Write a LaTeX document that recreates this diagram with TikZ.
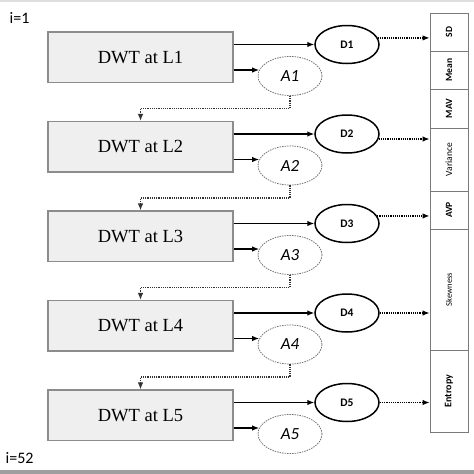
\documentclass[tikz,border=0pt]{standalone}
\usepackage{fontspec}
\setmainfont{Liberation Serif}
\newfontfamily\carl{Carlito}
\usetikzlibrary{arrows.meta,shapes.geometric}
\definecolor{boxfill}{HTML}{EFEFEF}
\definecolor{boxline}{HTML}{8C8C8C}
\definecolor{segline}{HTML}{7A7A7A}
\begin{document}
\begin{tikzpicture}[x=1pt,y=-1pt,
 dwtbox/.style={draw=boxline,line width=1.1pt,fill=boxfill,minimum width=185pt,minimum height=50.5pt,inner sep=0pt,font=\fontsize{18.5}{20}\selectfont},
 dnode/.style={ellipse,draw=black,line width=1.5pt,fill=white,minimum width=64pt,minimum height=38pt,inner sep=0pt,font=\carl\bfseries\fontsize{11.5}{12}\selectfont},
 anode/.style={ellipse,draw=black!55,dash pattern=on 1.5pt off 1pt,line width=0.8pt,fill=white,minimum width=64pt,minimum height=39pt,inner sep=0pt,font=\carl\itshape\fontsize{17}{18}\selectfont},
 solidarr/.style={line width=1.2pt,-{Latex[length=7pt,width=5.5pt]}},
 dotarr/.style={line width=1.2pt,dash pattern=on 1.2pt off 1pt,-{Latex[length=7pt,width=5.5pt]}},
 seg/.style={draw=segline,line width=0.9pt,minimum width=38pt,inner sep=0pt,font=\carl\fontsize{9.5}{10}\selectfont},
 corner/.style={font=\carl\fontsize{16}{17}\selectfont,inner sep=0pt}
]
\useasboundingbox (0,0) rectangle (474,474);
\fill[gray!25] (0,0) rectangle (474,2);
\fill[gray!75] (0,470) rectangle (474,474);

\node[corner,anchor=west] (ione) at (9.5,17.5) {i=1};
\node[corner,anchor=west] (ifin) at (5.5,458.5) {i=52};

\foreach \i in {1,...,5} {
  \pgfmathsetmacro\t{32+89.5*(\i-1)}
  \node[dwtbox] (L\i) at (140.5,\t+25.25) {DWT at L\i};
  \node[dnode] (D\i) at (347,\t+12.5) {D\i};
  \node[anode] (A\i) at (290,\t+44) {A\i};
  \draw[solidarr] (L\i.east |- D\i.west) -- (D\i.west);
  \draw[solidarr] (L\i.east |- A\i.169) -- (A\i.169);
}
\foreach \i in {1,...,4} {
  \pgfmathtruncatemacro\j{\i+1}
  \draw[dotarr,draw=black!80] (A\i.south) -- ++(0,12.5) -| (L\j.north);
}

\node[seg,minimum height=38pt] (sSD) at (449,32) {\rotatebox{90}{\bfseries SD}};
\node[seg,minimum height=38pt] (sMean) at (449,70) {\rotatebox{90}{\bfseries Mean}};
\node[seg,minimum height=39pt] (sMAV) at (449,108.5) {\rotatebox{90}{\bfseries MAV}};
\node[seg,minimum height=63pt] (sVar) at (449,159.5) {\rotatebox{90}{Variance}};
\node[seg,minimum height=38pt] (sAVP) at (449,210) {\rotatebox{90}{\bfseries AVP}};
\node[seg,minimum height=121pt,font=\carl\fontsize{8.5}{9}\selectfont] (sSkew) at (449,289.5) {\rotatebox{90}{Skewness}};
\node[seg,minimum height=82pt,font=\carl\fontsize{10}{11}\selectfont] (sEnt) at (449,391) {\rotatebox{90}{\bfseries Entropy}};

\draw[dotarr] (D1.12) -- (D1.12 -| sSD.west);
\draw[dotarr] (D2.-9) -- (D2.-9 -| sVar.west);
\draw[dotarr] (D3.14) -- (D3.14 -| sAVP.west);
\draw[dotarr] (D4.east) -- (D4.east -| sSkew.west);
\draw[dotarr] (D5.east) -- (D5.east -| sEnt.west);
\end{tikzpicture}
\end{document}
